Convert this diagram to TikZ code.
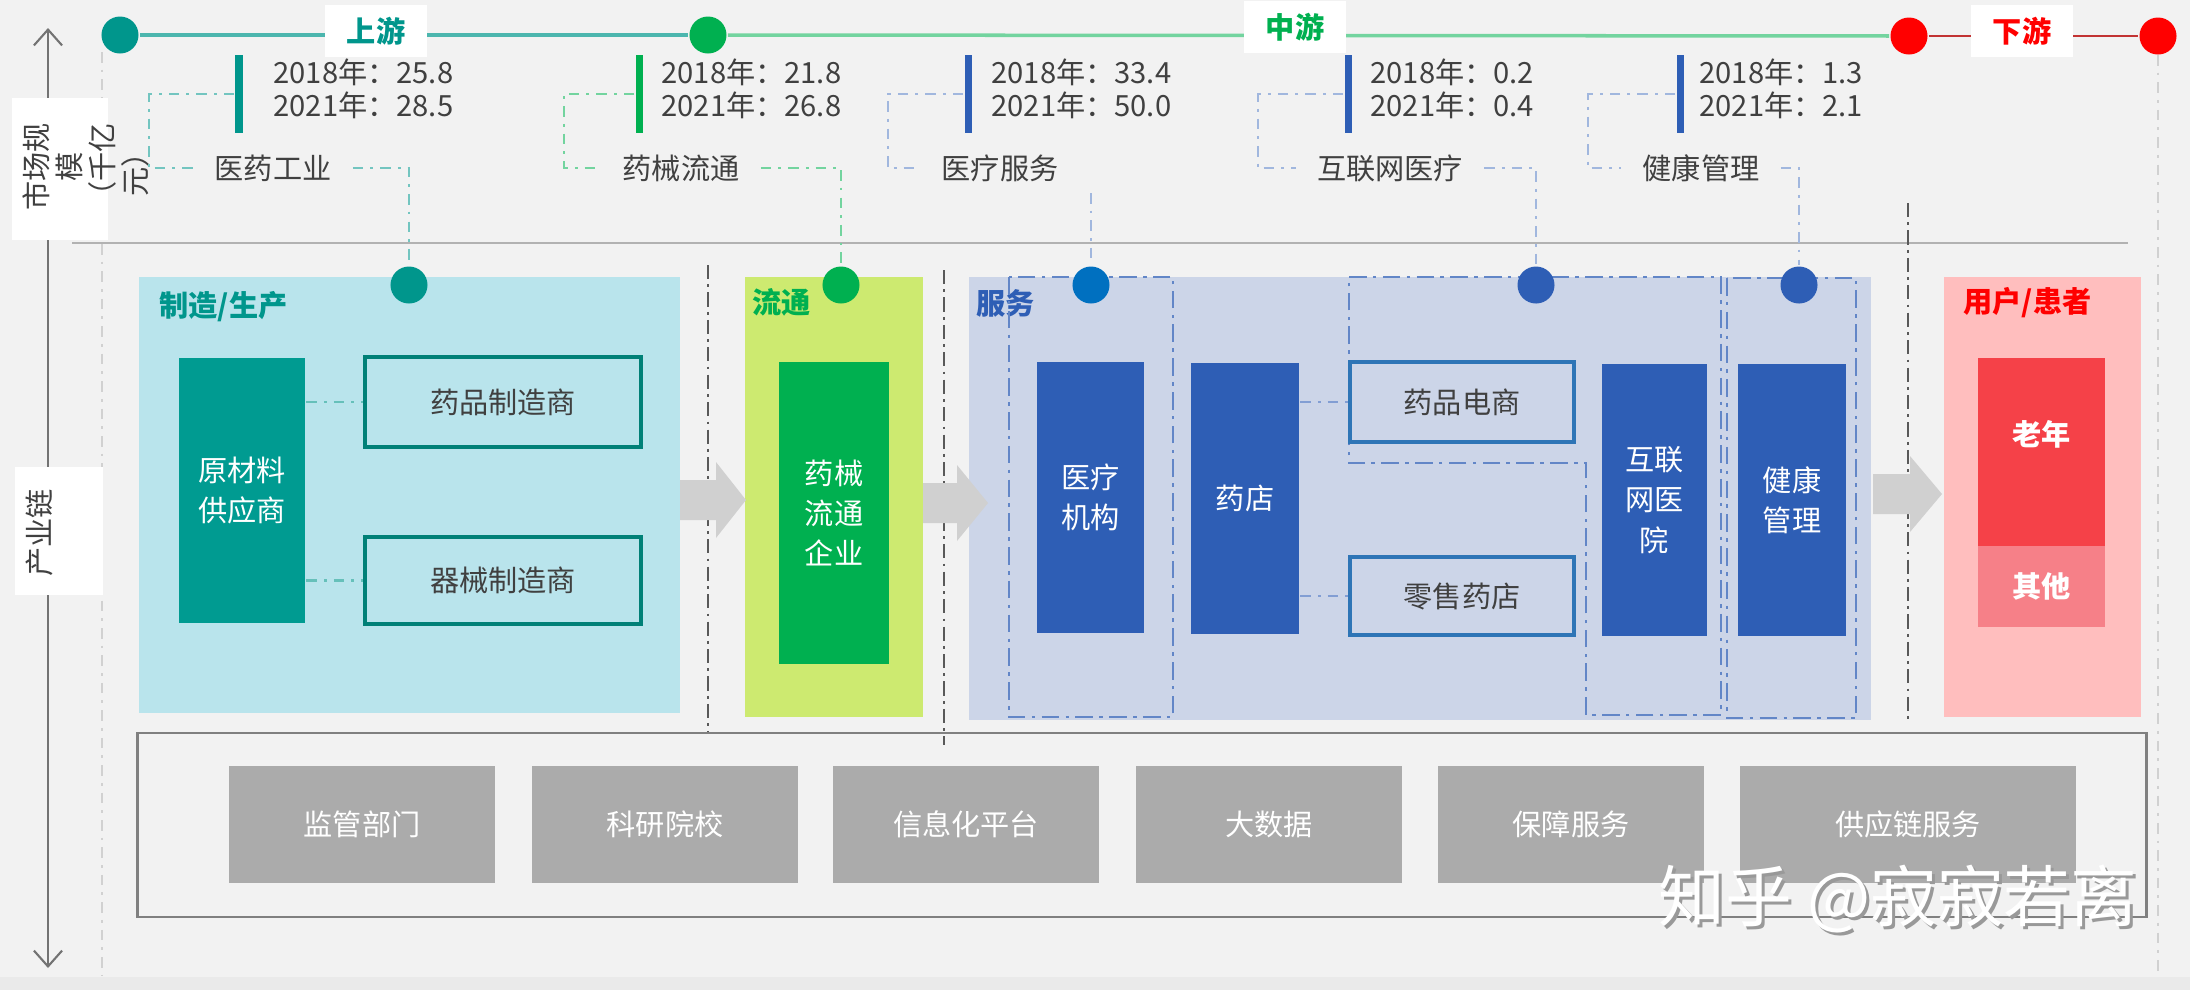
\documentclass[tikz,border=0pt]{standalone}
\usepackage{fontspec}
\setmainfont{Noto Sans CJK SC}
\usetikzlibrary{arrows.meta}
\definecolor{bg}{RGB}{242,242,242}
\definecolor{band}{RGB}{234,234,234}
\definecolor{tealc}{RGB}{0,150,140}
\definecolor{tealdk}{RGB}{0,155,145}
\definecolor{tealpan}{RGB}{185,228,236}
\definecolor{greenc}{RGB}{0,176,80}
\definecolor{limepan}{RGB}{205,234,112}
\definecolor{bluec}{RGB}{46,94,181}
\definecolor{bluedot}{RGB}{0,112,192}
\definecolor{bluepan}{RGB}{204,213,232}
\definecolor{blueline}{RGB}{46,117,182}
\definecolor{redc}{RGB}{255,0,0}
\definecolor{redpan}{RGB}{255,190,190}
\definecolor{oldred}{RGB}{245,65,72}
\definecolor{otherred}{RGB}{246,128,136}
\definecolor{txt}{RGB}{64,64,64}
\definecolor{flowgray}{RGB}{208,208,208}
\definecolor{boxgray}{RGB}{171,171,171}

\begin{document}
\begin{tikzpicture}[x=0.01cm,y=-0.01cm,line width=.8pt,
  every node/.style={inner sep=0pt,font=\fontsize{8.3}{11.5}\selectfont},
  knob/.style={circle,minimum size=0.37cm},
  valbar/.style={minimum width=0.07cm,minimum height=0.78cm},
  valtxt/.style={anchor=west,align=left,text=txt,font=\fontsize{8.3}{9.4}\selectfont},
  seglab/.style={text=txt,inner xsep=0.2cm},
  stage/.style={fill=white,minimum width=1.02cm,minimum height=0.52cm,font=\fontsize{8.3}{10}\selectfont\bfseries},
  ttl/.style={anchor=west,font=\fontsize{8.3}{10}\selectfont\bfseries},
  linebox/.style={draw,line width=1pt,text=txt},
  bluebox/.style={fill=bluec,text=white,align=center},
  gbox/.style={fill=boxgray,text=white,minimum width=2.66cm,minimum height=1.17cm},
  leader/.style={dash dot,line width=.6pt},
  guide/.style={dash dot,black!18,line width=.5pt},
  divider/.style={dash pattern=on 4pt off 1.5pt on .8pt off 1.5pt,line width=.5pt,black!65},
  svcline/.style={dash pattern=on 5pt off 1.8pt on 1pt off 1.8pt,line width=.75pt,bluec!75}]
\useasboundingbox (0,0) rectangle (2190,990);
\fill[bg] (0,0) rectangle (2190,990);
\fill[band] (0,977) rectangle (2190,990);

\draw[guide] (102,52) -- (102,975);
\draw[guide] (2158,55) -- (2158,975);
\coordinate (ax1) at (48,28); \coordinate (ax2) at (48,968);
\draw[black!55,line width=.6pt,>={Straight Barb[length=4.5pt,width=8pt]},<->] (ax1) -- (ax2);
\node[fill=white,minimum width=0.96cm,minimum height=1.42cm] (sizebox) at (60,169) {};
\node[rotate=90,align=center,text=txt,font=\fontsize{8.3}{9.4}\selectfont] (sizelab) at (86,167) {市场规\\模\\（千亿\\元）};
\node[fill=white,minimum width=0.88cm,minimum height=1.27cm] (chainbox) at (59,531) {};
\node[rotate=90,text=txt] (chainlab) at (39,533) {产业链};

\node[knob,fill=tealc] (t1) at (120,35) {};
\node[knob,fill=greenc] (t2) at (708,35) {};
\node[knob,fill=redc] (t3) at (1909,36) {};
\node[knob,fill=redc] (t4) at (2158,36) {};
\draw[tealc!70,line width=1pt] (t1) -- (t2);
\draw[greenc!55,line width=1pt] (t2) -- (t3);
\draw[red!70!black!80,line width=.6pt] (t3) -- (t4);
\node[stage,text=tealc] (up) at (376,31) {上游};
\node[stage,text=greenc] (mid) at (1295,27) {中游};
\node[stage,text=redc] (down) at (2022,31) {下游};
\coordinate (s1) at (72,243); \coordinate (s2) at (2128,243);
\draw[black!30] (s1) -- (s2);

\node[valbar,fill=tealc] (b1) at (239,94) {};
\node[valtxt] (v1) at (272,89) {2018年：25.8\\2021年：28.5};
\node[seglab] (n1) at (273,168) {医药工业};
\node[valbar,fill=greenc] (b2) at (639,94) {};
\node[valtxt] (v2) at (660,89) {2018年：21.8\\2021年：26.8};
\node[seglab] (n2) at (681,168) {药械流通};
\node[valbar,fill=bluec] (b3) at (968,94) {};
\node[valtxt] (v3) at (990,89) {2018年：33.4\\2021年：50.0};
\node[seglab] (n3) at (1000,168) {医疗服务};
\node[valbar,fill=bluec] (b4) at (1348,94) {};
\node[valtxt] (v4) at (1369,89) {2018年：0.2\\2021年：0.4};
\node[seglab] (n4) at (1390,168) {互联网医疗};
\node[valbar,fill=bluec] (b5) at (1680,94) {};
\node[valtxt] (v5) at (1698,89) {2018年：1.3\\2021年：2.1};
\node[seglab] (n5) at (1701,168) {健康管理};

\draw[divider] (708,265) -- (708,733);
\draw[divider] (944,270) -- (944,745);
\draw[divider] (1908,203) -- (1908,722);

\node[fill=tealpan,minimum width=5.41cm,minimum height=4.36cm] (p1) at (409.5,495) {};
\node[ttl,text=tealc] (p1t) at (158,307) {制造/生产};
\node[fill=tealdk,text=white,align=center,minimum width=1.26cm,minimum height=2.65cm] (raw) at (242,490.5) {原材料\\供应商};
\node[linebox,draw=tealc!85!black,minimum width=2.76cm,minimum height=0.9cm] (drug) at (503,402) {药品制造商};
\node[linebox,draw=tealc!85!black,minimum width=2.76cm,minimum height=0.87cm] (dev) at (503,580.5) {器械制造商};
\draw[leader,tealc!60] (raw.east |- drug.west) -- (drug.west);
\draw[leader,tealc!60] (raw.east |- dev.west) -- (dev.west);

\node[fill=limepan,minimum width=1.78cm,minimum height=4.4cm] (p2) at (834,497) {};
\node[ttl,text=greenc] (p2t) at (751,302) {流通};
\node[fill=greenc,text=white,align=center,minimum width=1.1cm,minimum height=3.02cm] (dist) at (834,513) {药械\\流通\\企业};

\node[fill=bluepan,minimum width=9.02cm,minimum height=4.43cm] (p3) at (1420,498.5) {};
\node[ttl,text=bluec] (p3t) at (975,303) {服务};
\draw[svcline] (1009,277) rectangle (1173,717);
\draw[svcline] (1349,277) -- (1721,277) -- (1721,715) -- (1586,715) -- (1586,463) -- (1349,463) -- cycle;
\draw[svcline] (1727,278) rectangle (1856,718);
\node[bluebox,minimum width=1.07cm,minimum height=2.71cm] (hosp) at (1090.5,497.5) {医疗\\机构};
\node[bluebox,minimum width=1.08cm,minimum height=2.71cm] (shop) at (1245,498.5) {药店};
\node[bluebox,minimum width=1.05cm,minimum height=2.72cm] (ehosp) at (1654.5,500) {互联\\网医\\院};
\node[bluebox,minimum width=1.08cm,minimum height=2.72cm] (care) at (1792,500) {健康\\管理};
\node[linebox,draw=blueline,minimum width=2.24cm,minimum height=0.8cm] (ecom) at (1462,402) {药品电商};
\node[linebox,draw=blueline,minimum width=2.24cm,minimum height=0.78cm] (retail) at (1462,596) {零售药店};
\draw[leader,bluec!60] (shop.east |- ecom.west) -- (ecom.west);
\draw[leader,bluec!60] (shop.east |- retail.west) -- (retail.west);

\node[fill=redpan,minimum width=1.97cm,minimum height=4.4cm] (p4) at (2042.5,497) {};
\node[ttl,text=redc] (p4t) at (1962,303) {用户/患者};
\node[fill=oldred,minimum width=1.27cm,minimum height=1.88cm] (old) at (2041.5,452) {};
\node[text=white,font=\fontsize{8.3}{10}\selectfont\bfseries] (oldt) at (2041.5,434) {老年};
\node[fill=otherred,text=white,font=\fontsize{8.3}{10}\selectfont\bfseries,minimum width=1.27cm,minimum height=0.81cm] (other) at (2041.5,586.5) {其他};

\fill[flowgray] (680,480) -- ++(36,0) -- ++(0,-18) -- ++(30,38) -- ++(-30,38) -- ++(0,-18) -- ++(-36,0) -- cycle;
\fill[flowgray] (923,483) -- ++(34,0) -- ++(0,-18) -- ++(31,38) -- ++(-31,38) -- ++(0,-18) -- ++(-34,0) -- cycle;
\fill[flowgray] (1873,474) -- ++(37,0) -- ++(0,-18) -- ++(32,38) -- ++(-32,38) -- ++(0,-18) -- ++(-37,0) -- cycle;

\node[knob,fill=tealc] (k1) at (409,285) {};
\node[knob,fill=greenc] (k2) at (841,285) {};
\node[knob,fill=bluedot] (k3) at (1091,285) {};
\node[knob,fill=bluec] (k4) at (1536,285) {};
\node[knob,fill=bluec] (k5) at (1799,285) {};
\coordinate (m3) at (1091,193);
\draw[leader,tealc!55] (b1.west) -- ++(-85,0) |- (n1.west);
\draw[leader,tealc!55] (n1.east) -| (k1);
\draw[leader,greenc!55] (b2.west) -- ++(-70,0) |- (n2.west);
\draw[leader,greenc!55] (n2.east) -| (k2);
\draw[leader,bluec!45] (b3.west) -- ++(-75,0) |- (n3.west);
\draw[leader,bluec!45] (m3) -- (k3);
\draw[leader,bluec!45] (b4.west) -- ++(-85,0) |- (n4.west);
\draw[leader,bluec!45] (n4.east) -| (k4);
\draw[leader,bluec!45] (b5.west) -- ++(-87,0) |- (n5.west);
\draw[leader,bluec!45] (n5.east) -| (k5);

\node[draw=black!50,line width=.7pt,minimum width=20.08cm,minimum height=1.84cm] (base) at (1142,825) {};
\node[gbox] (g1) at (362,824.5) {监管部门};
\node[gbox] (g2) at (665,824.5) {科研院校};
\node[gbox] (g3) at (966,824.5) {信息化平台};
\node[gbox] (g4) at (1269,824.5) {大数据};
\node[gbox] (g5) at (1571,824.5) {保障服务};
\node[gbox,minimum width=3.36cm] (g6) at (1908,824.5) {供应链服务};

\node[text=black!40,font=\fontsize{19}{19}\selectfont] (wm0) at (1901,902) {知乎 @寂寂若离};
\node[text=white,font=\fontsize{19}{19}\selectfont] (wm) at (1898,899) {知乎 @寂寂若离};
\end{tikzpicture}
\end{document}
